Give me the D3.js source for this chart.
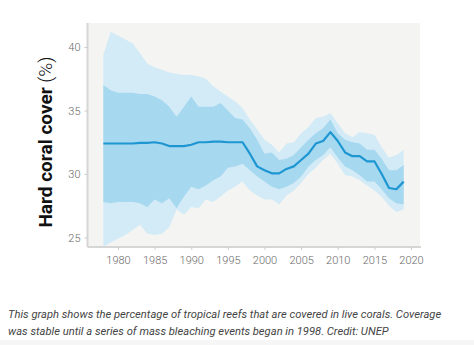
<!DOCTYPE html>
<html><head><meta charset="utf-8">
<script src="https://cdn.jsdelivr.net/npm/d3@7"></script>
<style>
html,body{margin:0;padding:0;background:#fff;}
svg{display:block;}
</style></head>
<body>
<svg id="c" width="474" height="345"></svg>
<script>
const years = d3.range(1978, 2020);
const mean = [32.4,32.4,32.4,32.4,32.4,32.45,32.45,32.5,32.4,32.2,32.2,32.2,32.3,32.5,32.5,32.55,32.55,32.5,32.5,32.5,31.6,30.6,30.3,30.05,30.05,30.4,30.6,31.1,31.6,32.4,32.6,33.3,32.6,31.7,31.4,31.4,31.0,31.0,30.0,28.9,28.8,29.4];
const innerUpper = [37.0,36.6,36.4,36.4,36.4,36.3,36.3,36.1,35.8,35.3,34.5,35.3,36.1,35.3,35.3,35.3,35.6,35.0,34.4,34.3,33.6,32.7,31.6,31.7,31.1,31.2,31.5,32.1,32.7,33.2,33.6,34.3,33.2,32.7,32.5,32.4,31.9,31.9,31.2,30.3,30.3,30.7];
const innerLower = [27.8,27.7,27.8,27.8,27.8,27.7,27.4,28.0,27.7,28.1,27.3,28.2,29.0,28.8,29.1,29.5,29.8,30.5,30.6,30.8,30.3,29.8,29.4,29.0,28.8,29.0,29.3,29.8,30.6,31.1,31.5,32.1,31.3,30.6,30.3,29.9,29.4,29.4,28.8,28.1,27.7,27.6];
const outerUpper = [39.4,41.2,40.9,40.6,40.3,39.5,38.7,38.4,38.2,38.0,37.9,37.8,37.8,37.7,37.5,36.9,36.5,36.1,35.7,35.2,34.3,33.5,32.7,32.3,31.7,32.4,32.5,33.2,33.7,34.4,34.5,34.8,34.0,33.2,32.9,33.3,33.2,33.1,32.1,31.3,31.5,31.9];
const outerLower = [24.25,24.6,24.9,25.2,25.6,26.0,25.3,25.2,25.3,25.8,27.2,26.8,27.4,27.3,28.0,27.8,28.2,28.7,29.0,29.4,28.7,28.3,28.0,28.0,27.6,28.3,28.7,29.3,30.0,30.5,31.1,31.6,30.8,29.9,29.8,29.5,29.1,28.7,28.2,27.5,27.0,27.2];
const xTicks = [1980,1985,1990,1995,2000,2005,2010,2015,2020];
const yTicks = [25,30,35,40];
const captionLines = ["This graph shows the percentage of tropical reefs that are covered in live corals. Coverage","was stable until a series of mass bleaching events began in 1998. Credit: UNEP"];

const data = years.map((yr,i)=>({year:yr, m:mean[i], iu:innerUpper[i], il:innerLower[i], ou:outerUpper[i], ol:outerLower[i]}));

const svg = d3.select("#c");
const pL = 87.5, pR = 420, pT = 23, pB = 247;
const x = d3.scaleLinear().domain([1980,2020]).range([118,411]);
const y = d3.scaleLinear().domain([25,40]).range([237.5,47]);

svg.append("rect").attr("x",pL).attr("y",pT).attr("width",pR-pL).attr("height",pB-pT).attr("fill","#f4f4f2");

svg.append("clipPath").attr("id","pc").append("rect").attr("x",pL).attr("y",pT).attr("width",pR-pL).attr("height",pB-pT);
const g = svg.append("g").attr("clip-path","url(#pc)");

g.append("path").datum(data).attr("fill","#d3ebf7")
 .attr("d", d3.area().x(d=>x(d.year)).y0(d=>y(d.ol)).y1(d=>y(d.ou)));
g.append("path").datum(data).attr("fill","#a6d8ef")
 .attr("d", d3.area().x(d=>x(d.year)).y0(d=>y(d.il)).y1(d=>y(d.iu)));
g.append("path").datum(data).attr("fill","none").attr("stroke","#1e96d2").attr("stroke-width",2.2)
 .attr("stroke-linejoin","round")
 .attr("d", d3.line().x(d=>x(d.year)).y(d=>y(d.m)));

// axes
const xa = svg.append("g").attr("transform",`translate(0,${pB})`)
 .call(d3.axisBottom(x).tickValues(xTicks).tickFormat(d3.format("d")).tickSize(3).tickPadding(6));
xa.select(".domain").attr("d",`M${pL},0H${pR+1}`).attr("stroke","#d6d6d6").attr("stroke-width",2);
const ya = svg.append("g").attr("transform",`translate(${pL},0)`)
 .call(d3.axisLeft(y).tickValues(yTicks).tickSize(3).tickPadding(4));
ya.select(".domain").attr("d",`M0,${pT}V${pB}`).attr("stroke","#d6d6d6").attr("stroke-width",2);
svg.selectAll(".tick line").attr("stroke","#cccccc");
svg.selectAll(".tick text").attr("fill","#6a6a6a").style("font-family","Roboto").style("font-size","11px").style("font-weight","300");

// y title
const t = svg.append("text").attr("transform","translate(52,142) rotate(-90)")
 .attr("text-anchor","middle").style("font-family","Roboto").attr("fill","#111");
t.append("tspan").text("Hard coral cover").style("font-weight","700").style("font-size","19px");
t.append("tspan").text(" (%)").style("font-weight","300").style("font-size","19px");

// caption
svg.selectAll("text.cap").data(captionLines).join("text").attr("class","cap")
 .attr("x",8).attr("y",(d,i)=>318+i*17).text(d=>d)
 .style("font-family","Roboto").style("font-style","italic").style("font-size","11.2px").attr("fill","#444");
svg.append("rect").attr("x",0).attr("y",340).attr("width",474).attr("height",5).attr("fill","#f6f6f6");
</script>
</body></html>
